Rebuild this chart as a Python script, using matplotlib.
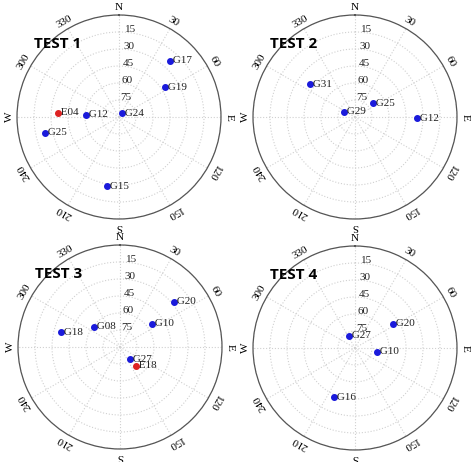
import numpy as np
import matplotlib
matplotlib.use("Agg")
import matplotlib.pyplot as plt

titles = ["TEST 1", "TEST 2", "TEST 3", "TEST 4"]
sat_names = [
    ["G17", "G19", "E04", "G12", "G24", "G25", "G15"],
    ["G31", "G29", "G25", "G12"],
    ["G20", "G18", "G08", "G10", "G27", "E18"],
    ["G27", "G20", "G10", "G16"],
]
sat_az = [
    [42, 57, 274, 274, 34, 258, 190],
    [306, 296, 53, 91],
    [50, 284, 308, 54, 141, 139],
    [333, 58, 100, 203],
]
sat_el = [
    [23, 42, 36, 61, 86, 23, 28],
    [41, 79, 70, 35],
    [28, 36, 61, 55, 76, 68],
    [78, 50, 70, 43],
]
ring_labels = [15, 30, 45, 60, 75]
az_ticks = [0, 30, 60, 90, 120, 150, 180, 210, 240, 270, 300, 330]
az_labels = ["N", "30", "60", "E", "120", "150", "S", "210", "240", "W", "300", "330"]

W, H = 474, 462
fig = plt.figure(figsize=(W / 100, H / 100), dpi=100)
centers = [(119, 117), (355, 117), (120, 347), (355, 348)]
R = 102
serif = "Liberation Serif"
for i, (cx, cy) in enumerate(centers):
    ax = fig.add_axes([(cx - R) / W, 1 - (cy + R) / H, 2 * R / W, 2 * R / H], projection="polar")
    ax.set_theta_zero_location("N")
    ax.set_theta_direction(-1)
    ax.set_ylim(0, 90)
    ax.set_yticks([15, 30, 45, 60, 75, 90])
    ax.set_yticklabels([])
    ax.set_xticks(np.deg2rad(az_ticks))
    ax.set_xticklabels([])
    ax.grid(True, color="#d0d0d0", linestyle=":", linewidth=0.8)
    ax.spines["polar"].set_color("#555555")
    ax.spines["polar"].set_linewidth(0.9)
    for e in ring_labels:
        ax.text(np.deg2rad(4), 90 - e + 2, str(e), fontsize=8, family=serif,
                ha="left", va="center", color="#222222")
    for a, lab in zip(az_ticks, az_labels):
        ax.text(np.deg2rad(a), 97, lab, fontsize=8, family=serif, rotation=-a,
                rotation_mode="anchor", ha="center", va="center", clip_on=False)
    for n, a, e in zip(sat_names[i], sat_az[i], sat_el[i]):
        col = "#dd2222" if n.startswith("E") else "#1a1adb"
        ax.plot(np.deg2rad(a), 90 - e, "o", color=col, markersize=4)
        ax.text(np.deg2rad(a), 90 - e, " " + n, fontsize=8, family=serif,
                ha="left", va="center", color="#222222")
    fig.text((cx - R + 17) / W, 1 - (cy - 73) / H, titles[i], fontsize=11,
             fontweight="bold", family="Open Sans", ha="left", va="center")

fig.savefig("out.png", dpi=100)
